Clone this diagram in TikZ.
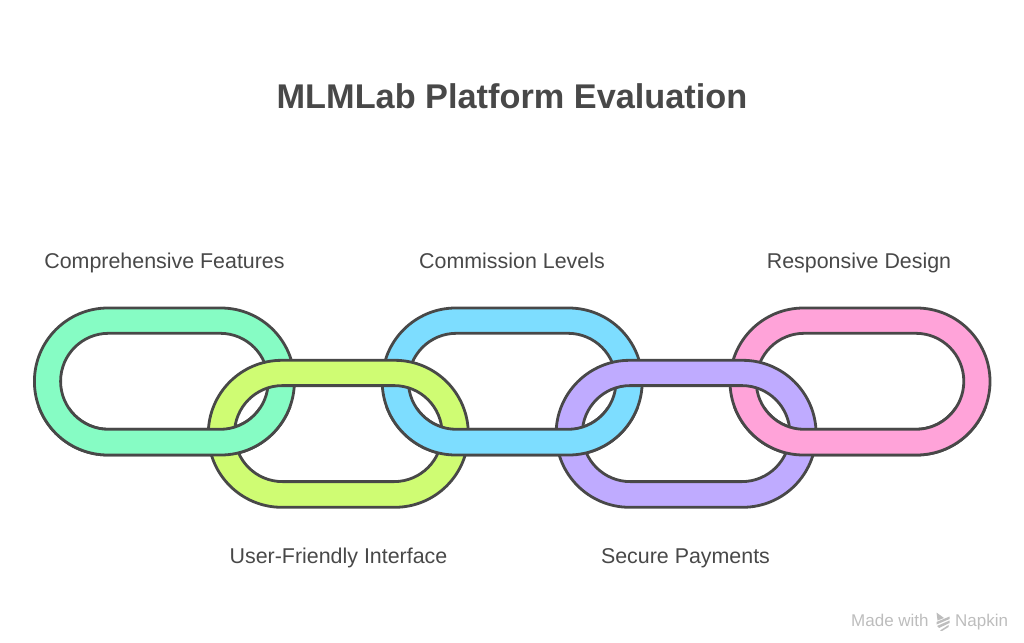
\documentclass[tikz,border=0pt]{standalone}
\usepackage{fontspec}
\usetikzlibrary{calc}
\setmainfont{Liberation Sans}
\definecolor{mintlink}{HTML}{86FCC4}
\definecolor{limelink}{HTML}{CFFC73}
\definecolor{skylink}{HTML}{7DDDFF}
\definecolor{violetlink}{HTML}{BFABFF}
\definecolor{pinklink}{HTML}{FFA3D9}
\definecolor{inkline}{HTML}{484848}
\definecolor{marktext}{HTML}{BDBDBD}
\tikzset{
  title/.style     = { anchor=base, font=\fontsize{34.3}{35}\selectfont\bfseries, text=inkline },
  caption/.style   = { anchor=base, font=\fontsize{21.4}{22}\selectfont, text=inkline },
  watermark/.style = { anchor=base west, font=\fontsize{17}{17}\selectfont, text=marktext, inner sep=0pt },
  band/.style      = { draw=inkline, line width=2.8pt, even odd rule },
}
% one chain link: left x, top y, colour
\newcommand{\chainlink}[3]{
  \draw [band,fill=#3]
        [rounded corners=73.5pt] (#1,#2) rectangle ++(260,147)
        [rounded corners=48pt]   ($ (#1,#2) + (26.2,25.3) $) rectangle ++(207.6,96);
}
\begin{document}
\begin{tikzpicture}[x=1pt,y=-1pt]
  \useasboundingbox (0,0) rectangle (1024,642);

  \node (heading) [title]   at (512,108)   {MLMLab Platform Evaluation};

  \node (features) [caption] at (164.5,268) {Comprehensive Features};
  \node (levels)   [caption] at (512,268)   {Commission Levels};
  \node (design)   [caption] at (859,268)   {Responsive Design};
  \node (iface)    [caption] at (338.5,563) {User-Friendly Interface};
  \node (payments) [caption] at (685.5,563) {Secure Payments};

  % upper links first, lower links over them
  \foreach \x/\c in {34.4/mintlink,382.2/skylink,730/pinklink}
    \chainlink{\x}{308}{\c};
  \foreach \x/\c in {208.3/limelink,556.1/violetlink}
    \chainlink{\x}{360.3}{\c};

  % upper links again at their lower crossings
  \begin{scope}
    \clip (0,407.7) rectangle (1024,642);
    \foreach \x/\c in {34.4/mintlink,382.2/skylink,730/pinklink}
      \chainlink{\x}{308}{\c};
  \end{scope}

  \node (made)   [watermark] at (851,626.5) {Made with};
  \node (napkin) [watermark] at (955,626.5) {Napkin};
  \fill [marktext] (936.5,612.5) -- (944,618) -- (937.5,620.5) -- cycle;
  \fill [marktext] (936.5,622) -- (949.5,616.5) -- (949.5,619) -- (936.5,624.5) -- cycle;
  \fill [marktext] (937,626) -- (949.5,620.5) -- (949.5,623) -- (939,628) -- cycle;
  \fill [marktext] (940,630.5) -- (948.5,625) -- (948.5,627) -- (942,631) -- cycle;
\end{tikzpicture}
\end{document}
